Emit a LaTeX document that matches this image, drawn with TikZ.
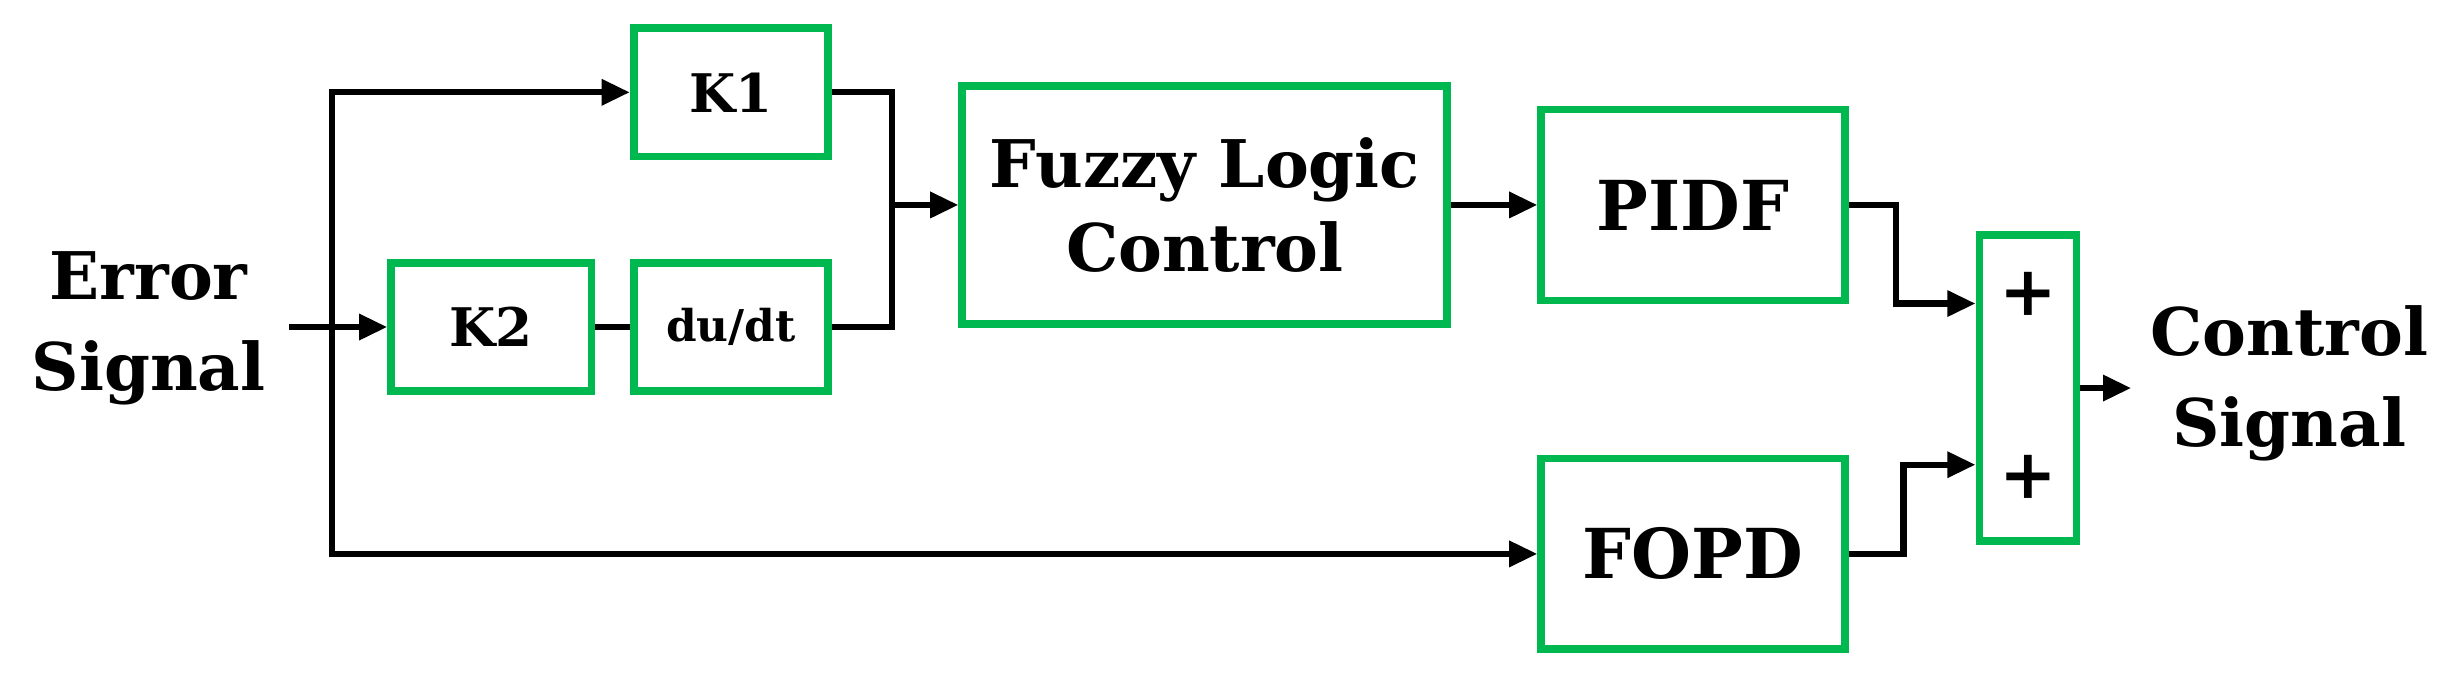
\documentclass[tikz,border=0pt]{standalone}
\usepackage{fontspec}
\setmainfont{DejaVu Serif}
\usetikzlibrary{arrows.meta}
\definecolor{boxgreen}{RGB}{0,184,80}
\tikzset{
    Arrow/.style={-{Triangle[length=9pt,width=8pt]},draw=black,line width=2pt},
    Line/.style={draw=black,line width=2pt},
    Block/.style={draw=boxgreen, line width=2.5pt, inner sep=0pt, align=center, font=\bfseries},
    Tittle/.style={align=center, font=\bfseries\fontsize{21}{29}\selectfont}
}
\begin{document}
\begin{tikzpicture}[x=0.5pt, y=-0.5pt]
            \useasboundingbox (0,0) rectangle (1560,437);
            % Blocks
            \node[Block, minimum width=62pt, minimum height=41pt, font=\bfseries\fontsize{17}{20}\selectfont] (k1) at (467,59) {K1};
            \node[Block, minimum width=64pt, minimum height=41pt, font=\bfseries\fontsize{17}{20}\selectfont] (k2) at (314,209) {K2};
            \node[Block, minimum width=62pt, minimum height=41pt, font=\bfseries\fontsize{14}{16}\selectfont] (dudt) at (467,209) {du/dt};
            \node[Block, minimum width=155pt, minimum height=76pt, font=\bfseries\fontsize{21}{27}\selectfont] (flc) at (770,131) {Fuzzy Logic\\Control};
            \node[Block, minimum width=97pt, minimum height=61pt, font=\bfseries\fontsize{22}{25}\selectfont] (pidf) at (1082,131) {PIDF};
            \node[Block, minimum width=97pt, minimum height=61pt, font=\bfseries\fontsize{22}{25}\selectfont] (fopd) at (1082,354) {FOPD};
            \node[Block, minimum width=31pt, minimum height=98pt] (sum) at (1296,248) {};
            \node[font=\bfseries\fontsize{22}{25}\selectfont] (p1) at (1296,188) {+};
            \node[font=\bfseries\fontsize{22}{25}\selectfont] (p2) at (1296,305) {+};
            % Texts
            \node[Tittle] (err) at (95,210) {Error\\Signal};
            \node[Tittle] (ctl) at (1463,245) {Control\\Signal};
            % Coordinates
            \coordinate (in) at (185,209);
            \coordinate (br) at (212,209);
            \coordinate (join) at (570,131);
            \coordinate (out) at (1362,248);
            % Connections
            \draw[Arrow] (in) -- (k2);
            \draw[Arrow] (br) |- (k1);
            \draw[Arrow] (br) |- (fopd);
            \draw[Line] (k2) -- (dudt);
            \draw[Line] (k1.east) -| (join) |- (dudt.east);
            \draw[Arrow] (join) -- (flc);
            \draw[Arrow] (flc) -- (pidf);
            \draw[Arrow] (pidf.east) -- ++(30,0) |- ([yshift=-3pt]sum.west |- p1);
            \draw[Arrow] (fopd.east) -- ++(35,0) |- ([yshift=4pt]sum.west |- p2);
            \draw[Arrow] (sum) -- (out);
        \end{tikzpicture}
\end{document}
